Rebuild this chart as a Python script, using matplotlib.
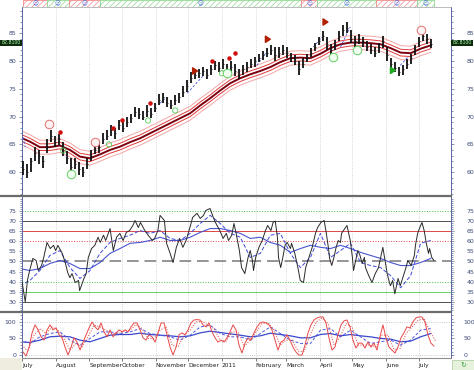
import numpy as np
import pandas as pd
import matplotlib
matplotlib.use('Agg')
import matplotlib.pyplot as plt
from matplotlib.ticker import MultipleLocator
from matplotlib.lines import Line2D
from matplotlib.patches import Rectangle

# ==========================================
# 1. Values
#    x values are days since 1 July 2010
# ==========================================
base = pd.Timestamp('2010-07-01')

# price bars (evenly spaced from first to last bar)
bar_first, bar_last = 1, 376
bar_close = [60.5, 60.0, 62.0, 63.5, 63.0, 62.0, 64.5, 66.5, 65.5, 66.0,
             64.0, 62.5, 61.0, 61.5, 60.5, 60.0, 61.5, 63.0, 64.0, 64.5,
             66.0, 66.5, 67.5, 67.0, 68.5, 68.0, 69.0, 69.8, 70.8, 70.5,
             70.0, 71.0, 70.5, 71.5, 73.0, 73.5, 72.5, 72.0, 73.0, 73.5,
             74.5, 75.5, 77.0, 77.5, 77.8, 78.2, 77.5, 78.5, 79.2, 78.8,
             79.5, 78.5, 79.0, 78.2, 77.5, 78.5, 79.0, 79.5, 80.0, 80.5,
             81.0, 81.5, 82.0, 81.0, 81.5, 82.0, 81.5, 80.5, 80.0, 78.5,
             79.5, 80.5, 81.5, 82.5, 83.5, 84.5, 83.0, 82.0, 83.0, 84.5,
             85.5, 86.0, 84.0, 83.5, 84.0, 83.5, 82.5, 82.0, 81.5, 82.5,
             83.5, 81.0, 79.5, 78.8, 78.0, 78.5, 79.5, 80.5, 82.0, 83.5,
             84.5, 84.0, 83.0]
bar_high = [62.0, 61.5, 62.5, 64.5, 64.0, 63.0, 66.0, 67.5, 66.5, 66.8,
            65.5, 63.8, 62.5, 62.5, 61.8, 61.0, 62.5, 64.0, 65.0, 65.5,
            67.0, 67.5, 68.5, 68.0, 69.3, 69.0, 70.0, 70.5, 71.8, 71.5,
            71.0, 72.0, 71.5, 72.5, 74.0, 74.3, 73.5, 73.0, 73.8, 74.2,
            75.5, 76.5, 78.0, 78.5, 78.5, 79.0, 78.5, 79.3, 80.0, 79.8,
            80.3, 79.5, 80.0, 79.5, 78.5, 79.3, 79.8, 80.3, 80.8, 81.3,
            81.8, 82.3, 82.8, 82.5, 82.5, 82.8, 82.5, 81.5, 81.0, 80.0,
            80.5, 81.3, 82.3, 83.3, 84.3, 85.3, 84.3, 83.0, 83.8, 85.3,
            86.5, 87.0, 85.5, 84.5, 84.8, 84.3, 83.5, 83.0, 82.5, 83.3,
            84.5, 82.5, 80.5, 79.8, 79.0, 79.3, 80.3, 81.3, 82.8, 84.3,
            85.3, 84.8, 84.0]
bar_low = [59.5, 59.0, 60.0, 62.0, 61.5, 60.8, 63.5, 65.5, 64.5, 64.8,
           63.0, 61.5, 60.0, 60.5, 59.5, 59.2, 60.5, 62.0, 63.2, 63.5,
           65.0, 65.8, 66.5, 66.0, 67.5, 67.2, 68.2, 68.8, 70.0, 69.5,
           69.3, 70.0, 69.8, 70.8, 72.0, 72.5, 71.8, 71.3, 72.0, 72.5,
           73.5, 74.5, 76.0, 76.8, 77.0, 77.3, 76.8, 77.5, 78.3, 78.0,
           78.5, 77.5, 78.0, 77.3, 76.8, 77.5, 78.0, 78.7, 79.0, 79.8,
           80.2, 80.8, 81.0, 80.0, 80.5, 81.0, 80.5, 79.8, 79.2, 77.5,
           78.8, 79.8, 80.8, 81.8, 82.8, 83.5, 82.0, 81.0, 82.0, 83.5,
           84.5, 85.0, 83.2, 82.5, 83.0, 82.5, 81.8, 81.2, 80.8, 81.5,
           82.3, 80.0, 78.8, 78.0, 77.3, 77.5, 78.5, 79.5, 81.0, 82.5,
           83.5, 83.0, 82.3]

# moving average at the centre of the red envelope
ma_first, ma_last = -2, 376
ma_mid = [66.3, 65.5, 64.5, 64.5, 64.8, 64.0, 62.8, 62.5, 63.2, 64.0,
          64.6, 65.4, 66.1, 67.0, 67.9, 68.8, 69.7, 70.6, 72.0, 73.3,
          74.7, 76.0, 76.9, 77.6, 78.2, 78.9, 79.8, 80.5, 80.6, 80.5,
          81.3, 82.3, 83.0, 83.3, 83.3, 83.2, 83.0, 82.3, 81.5, 81.4,
          82.2, 82.8]
band_offsets = [0.6, 1.25]

# short blue dashed trend segments: (day0, price0, day1, price1)
trend_segments = [(0, 67.0, 3, 64.5), (127, 72.4, 133, 73.5), (152, 74.2, 167, 77.4),
                  (216, 79.2, 225, 81.6), (268, 82.5, 276, 84.3), (293, 82.5, 302, 86.1),
                  (348, 79.2, 355, 80.7)]

# buy / sell zones in the top strip
signal_edges = [1, 23, 43, 72, 257, 271, 326, 363, 379]
signal_kinds = ['sell', 'buy', 'sell', 'buy', 'sell', 'buy', 'sell', 'buy']

# chart signals
sad_days, sad_price = [25, 67, 367], [68.6, 65.4, 85.5]
smile_days, smile_price = [45, 189, 286, 308], [59.6, 77.8, 80.7, 81.9]
ring_days, ring_price = [38, 80, 116, 141, 184], [63.9, 65.0, 69.3, 71.1, 77.8]
dot_days = [35, 84, 92, 118, 175, 190, 196]
dot_price = [67.2, 67.9, 69.3, 72.4, 80.0, 80.6, 81.5]
up_arrow_days, up_arrow_price = [159, 226, 279], [78.2, 83.9, 87.0]
dn_arrow_days, dn_arrow_price = [341], [78.3]
last_price = '82.8100'

# RSI
rsi_days = [0, 3, 5, 7, 10, 13, 15, 18, 20, 23,
            26, 29, 31, 33, 37, 40, 42, 44, 46, 49,
            52, 53, 57, 59, 61, 64, 67, 70, 72, 75,
            77, 81, 84, 87, 90, 93, 96, 99, 102, 104,
            107, 109, 113, 116, 120, 122, 125, 127, 131, 133,
            136, 139, 142, 145, 148, 151, 155, 157, 161, 164,
            167, 169, 173, 176, 178, 182, 185, 188, 190, 193,
            195, 197, 200, 202, 205, 208, 210, 212, 213, 215,
            218, 221, 224, 226, 229, 231, 233, 235, 236, 238,
            240, 242, 244, 247, 248, 251, 254, 256, 259, 261,
            264, 267, 270, 272, 275, 278, 280, 282, 283, 285,
            287, 289, 291, 293, 294, 297, 299, 302, 304, 305,
            307, 309, 311, 313, 315, 316, 319, 322, 325, 328,
            330, 332, 334, 336, 338, 339, 341, 343, 346, 348,
            351, 353, 355, 358, 361, 362, 364, 366, 368, 370,
            372, 374, 375, 377, 379]
rsi_vals = [40, 30, 40.6, 45.5, 51.5, 50.5, 45.5, 48, 52, 59.4,
            56.4, 58, 55.4, 58, 54, 49, 44.6, 42, 44, 39.6,
            40.6, 35.6, 41.6, 44, 52, 56.4, 58, 62, 59.4, 63,
            60.4, 66.3, 55.4, 62, 63.9, 60.4, 64.4, 65.3, 67.8, 70.3,
            66.8, 69.3, 65.3, 63, 60.4, 61.4, 65.3, 72.8, 70.3, 59,
            54.5, 49.5, 57, 61.4, 57, 60.4, 67.8, 71.8, 73.8, 71.3,
            72.8, 75.2, 76.2, 71.8, 69.3, 65.3, 61.4, 63.9, 60.4, 63,
            68.8, 63.9, 55.4, 47, 44, 52, 55.4, 50.5, 45.5, 52,
            57, 60.4, 65.3, 67.8, 65.3, 69.3, 70, 62, 52, 47,
            52, 58, 59.4, 56.4, 59, 54, 46.5, 40.6, 39.6, 47,
            52, 57, 63.9, 66.8, 69.3, 70.3, 63.9, 56.4, 51.5, 48,
            52, 57, 60.4, 59.4, 63.9, 66.3, 67.8, 60.4, 52, 45.5,
            50.5, 55.4, 53, 49, 52, 47, 43, 39.6, 44, 47,
            52, 57, 50.5, 44, 39.6, 38, 40.6, 34, 41.6, 38,
            43, 46.5, 50.5, 48, 53, 58, 63.9, 66.8, 69.3, 65.3,
            59, 54, 56.4, 52, 50.5]
rsi_avg_first, rsi_avg_last = -2, 376
rsi_fast_avg = [38, 40.6, 45.5, 53, 55.4, 47, 41.6, 45.5, 54, 59.4,
                61.4, 63, 65.3, 63.9, 65.3, 61.4, 60.4, 63.9, 68.8, 72.8,
                68.8, 63.9, 62, 52, 54, 63, 63.9, 54, 47, 52,
                63.9, 52, 55.4, 59, 49.5, 48, 47, 43, 37, 43,
                59, 60.4]
rsi_slow_avg = [46.5, 45.5, 46.5, 49, 50.5, 49, 46.5, 46.5, 49.5, 54,
                56.4, 59, 59.4, 60.4, 62, 60.4, 60.4, 62, 64.4, 66.3,
                66.3, 65.3, 63.9, 61.4, 62, 59.4, 58, 54.5, 56.4, 58,
                57, 56.4, 58, 56.4, 54.5, 53, 51.5, 49.5, 48, 48,
                49.5, 51.5]
rsi_levels = [75, 70, 65, 60, 50, 40, 35, 30]

# stochastic
stoch_k_first, stoch_k_last = 1, 379
stoch_k = [9, -3, 24, 67, 91, 76, 55, 45, 76, 91,
           76, 82, 61, 52, 24, 0, 24, 52, 39, 15,
           39, 61, 82, 100, 85, 76, 97, 70, 55, 76,
           55, 67, 76, 70, 76, 70, 85, 97, 97, 76,
           52, 45, 61, 55, 39, 67, 97, 97, 61, 24,
           0, 24, 61, 67, 61, 76, 97, 106, 107, 106,
           91, 85, 97, 70, 52, 39, 45, 39, 52, 70,
           91, 76, 30, 6, 36, 52, 45, 67, 85, 97,
           100, 97, 91, 76, 45, 15, 39, 45, 61, 45,
           24, 9, 0, 0, 30, 67, 91, 106, 112, 115,
           115, 97, 52, 15, 24, 61, 91, 103, 106, 85,
           45, 21, 36, 36, 21, 39, 24, 36, 15, 55,
           91, 52, 24, 15, 6, 24, 52, 67, 85, 82,
           100, 112, 115, 115, 100, 61, 36, 27]
stoch_d_first, stoch_d_last = 0, 381
stoch_d = [30, 10, 60, 80, 65, 85, 75, 50, 15, 35,
           25, 55, 90, 85, 75, 65, 65, 72, 75, 92,
           80, 50, 50, 75, 85, 30, 25, 60, 75, 100,
           102, 90, 80, 45, 42, 70, 70, 25, 45, 70,
           95, 98, 75, 30, 45, 45, 12, 10, 60, 100,
           112, 95, 30, 55, 95, 85, 30, 30, 30, 25,
           60, 60, 15, 20, 65, 85, 105, 110, 70, 40]
stoch_avg_first, stoch_avg_last = -2, 376
stoch_fast_avg = [45, 35, 55, 65, 70, 45, 30, 50, 70, 70,
                  65, 70, 80, 65, 60, 55, 45, 60, 85, 90,
                  65, 55, 55, 45, 65, 85, 65, 45, 35, 35,
                  75, 80, 55, 75, 55, 35, 40, 45, 30, 45,
                  75, 80]
stoch_slow_avg = [40, 38, 45, 55, 57, 55, 45, 40, 50, 60,
                  62, 62, 66, 62, 60, 58, 55, 58, 67, 72,
                  68, 64, 60, 55, 58, 66, 62, 58, 52, 52,
                  62, 65, 58, 62, 58, 55, 50, 48, 40, 42,
                  55, 65]

month_starts = pd.date_range('2010-07-01', '2011-07-01', freq='MS')
month_days = [(d - base).days for d in month_starts]
month_labels = [str(d.year) if d.month == 1 else d.strftime('%B') for d in month_starts]

# ==========================================
# 2. Layout
# ==========================================
plt.rcParams.update({'font.family': 'DejaVu Sans', 'hatch.linewidth': 0.5})
fig = plt.figure(figsize=(4.74, 3.70), dpi=100)
fig.patch.set_facecolor('white')

L, W = 22 / 474, 429 / 474
def fy(px):
    return 1 - px / 370

ax_sig = fig.add_axes([L, fy(7), W, 7 / 370])
ax_p = fig.add_axes([L, fy(195), W, 188 / 370])
ax_r = fig.add_axes([L, fy(311), W, 114 / 370])
ax_s = fig.add_axes([L, fy(358), W, 45 / 370])

x_max = 394.7
axis_col = '#5a68a0'
label_col = '#3c4a78'

for ax in (ax_p, ax_r, ax_s):
    ax.set_xlim(0, x_max)
    for d in month_days:
        ax.axvline(d, color='#c8c8c8', ls=':', lw=0.6, zorder=0)
    for side in ('top', 'bottom'):
        ax.spines[side].set_visible(False)
    for side in ('left', 'right'):
        ax.spines[side].set_color(axis_col)
        ax.spines[side].set_linewidth(0.7)
    ax.tick_params(axis='y', which='both', left=True, right=True, labelleft=True,
                   labelright=True, direction='out', colors=axis_col,
                   labelcolor=label_col, labelsize=4.5, width=0.5)
    ax.tick_params(axis='y', which='major', length=2.5, pad=1.5)
    ax.tick_params(axis='y', which='minor', length=1.2)
    ax.tick_params(axis='x', bottom=False, labelbottom=False)

# ---- top strip: buy/sell zones ----
ax_sig.set_xlim(0, x_max)
ax_sig.set_ylim(0, 1)
ax_sig.axis('off')
for i, kind in enumerate(signal_kinds):
    x0, x1 = signal_edges[i], signal_edges[i + 1]
    col = '#f08c8c' if kind == 'sell' else '#8fd88f'
    ax_sig.add_patch(Rectangle((x0, 0), x1 - x0, 1, facecolor='white',
                               edgecolor=col, hatch='//////', lw=0.6))
    ax_sig.text((x0 + x1) / 2, 0.45, '\u263a', color='#3a5ee0', fontsize=4,
                ha='center', va='center')

# ---- price panel ----
bar_days = np.linspace(bar_first, bar_last, len(bar_close))
ma_days = np.linspace(ma_first, ma_last, len(ma_mid))
ma = np.array(ma_mid)

ax_p.set_ylim(55.9, 89.7)
ax_p.set_yticks([60, 65, 70, 75, 80, 85])
ax_p.yaxis.set_minor_locator(MultipleLocator(1))

for off, col in zip(band_offsets[::-1], ['#f4a6a6', '#e03a3a']):
    ax_p.plot(ma_days, ma + off, color=col, lw=0.7, zorder=2)
    ax_p.plot(ma_days, ma - off, color=col, lw=0.7, zorder=2)
ax_p.plot(ma_days, ma, color='#7a0010', lw=1.4, zorder=2)

for d0, p0, d1, p1 in trend_segments:
    ax_p.plot([d0, d1], [p0, p1], color='#4a5ae0', lw=0.6, ls=(0, (3, 2)), zorder=2)

ax_p.vlines(bar_days, bar_low, bar_high, color='#111111', lw=1.3, zorder=3)
ax_p.hlines(bar_close, bar_days, bar_days + 1.2, color='#111111', lw=0.6, zorder=3)

ax_p.scatter(ring_days, ring_price, s=14, facecolor='none', edgecolor='#55cc55',
             lw=0.6, zorder=4)
ax_p.scatter(smile_days, smile_price, s=38, facecolor='#f0fff0', edgecolor='#66d066',
             lw=0.7, zorder=4)
ax_p.scatter(sad_days, sad_price, s=38, facecolor='#fff2f2', edgecolor='#e07070',
             lw=0.7, zorder=4)
ax_p.scatter(dot_days, dot_price, s=5, color='#d01010', zorder=4)
arrow_style = 'simple,head_width=0.9,head_length=0.7,tail_width=0.35'
for d, p in zip(up_arrow_days, up_arrow_price):
    ax_p.annotate('', xy=(d + 5, p), xytext=(d - 4, p),
                  arrowprops=dict(arrowstyle=arrow_style, color='#b02000',
                                  mutation_scale=5), zorder=5)
for d, p in zip(dn_arrow_days, dn_arrow_price):
    ax_p.annotate('', xy=(d + 5, p), xytext=(d - 4, p),
                  arrowprops=dict(arrowstyle=arrow_style, color='#22aa22',
                                  mutation_scale=5), zorder=5)

# ---- RSI panel ----
ax_r.set_ylim(25.5, 81.9)
ax_r.set_yticks([30, 35, 40, 45, 50, 55, 60, 65, 70, 75])
ax_r.yaxis.set_minor_locator(MultipleLocator(1))
level_style = {75: ('#44c044', ':', 0.7), 70: ('#505050', '-', 0.7),
               65: ('#e04848', '-', 0.7), 60: ('#e04848', ':', 0.7),
               50: ('#959595', (0, (6, 3)), 1.4), 40: ('#44c044', ':', 0.7),
               35: ('#66d066', '-', 0.7), 30: ('#505050', '-', 0.7)}
for lv in rsi_levels:
    c, ls, lw = level_style[lv]
    ax_r.axhline(lv, color=c, ls=ls, lw=lw, zorder=1)
rsi_avg_days = np.linspace(rsi_avg_first, rsi_avg_last, len(rsi_slow_avg))
ax_r.plot(rsi_avg_days, rsi_slow_avg, color='#4a55d0', lw=0.8, zorder=2)
ax_r.plot(rsi_avg_days, rsi_fast_avg, color='#3f4ad8', lw=0.7, ls=(0, (4, 2)), zorder=2)
ax_r.plot(rsi_days, rsi_vals, color='#2a2a2a', lw=0.7, zorder=3)

# ---- stochastic panel ----
ax_s.set_ylim(-9, 127)
ax_s.set_yticks([0, 50, 100])
ax_s.yaxis.set_minor_locator(MultipleLocator(10))
for lv in (0, 100):
    ax_s.axhline(lv, color='#b8b8b8', ls=':', lw=0.6, zorder=1)
k_days = np.linspace(stoch_k_first, stoch_k_last, len(stoch_k))
d_days = np.linspace(stoch_d_first, stoch_d_last, len(stoch_d))
avg_days = np.linspace(stoch_avg_first, stoch_avg_last, len(stoch_slow_avg))
ax_s.plot(avg_days, stoch_slow_avg, color='#3a48cc', lw=0.9, zorder=2)
ax_s.plot(avg_days, stoch_fast_avg, color='#4a58e0', lw=0.7, ls=(0, (3, 2)), zorder=2)
ax_s.plot(d_days, stoch_d, color='#e04040', lw=0.7, ls=':', zorder=3)
ax_s.plot(k_days, stoch_k, color='#e84848', lw=0.7, zorder=3)

ax_s.set_xticks(month_days)
ax_s.set_xticklabels(month_labels)
ax_s.tick_params(axis='x', bottom=True, labelbottom=True, labelsize=4.2, length=2.5,
                 width=0.5, colors='#404040', labelcolor='#202020', pad=1)
for lbl in ax_s.get_xticklabels():
    lbl.set_ha('left')
ax_s.spines['bottom'].set_visible(True)
ax_s.spines['bottom'].set_color('#909090')

# right-hand labels sit a little further out than the ticks
for ax in (ax_p, ax_r, ax_s):
    ax.tick_params(axis='y', which='major', labelright=True)
    for lbl in ax.get_yticklabels():
        pass
    ax.yaxis.set_tick_params(which='major', pad=1.5)
for ax in (ax_p, ax_r):
    for t in ax.yaxis.get_major_ticks():
        t.label2.set_x(1.024)
for t in ax_s.yaxis.get_major_ticks():
    t.label2.set_x(1.016)

# ---- separators and side boxes ----
for px in (196, 312):
    fig.add_artist(Line2D([0, 451 / 474], [fy(px), fy(px)], color='#6c6c6c', lw=1.6))
fig.add_artist(Line2D([L, L + W], [fy(7), fy(7)], color='#a0a0a0', lw=0.5))

for xc in (11 / 474, 462 / 474):
    fig.text(xc, fy(43), last_price, ha='center', va='center', fontsize=3.3,
             color='#b8ffb8', bbox=dict(boxstyle='square,pad=0.2', fc='#0c2c0c', ec='none'))

fig.add_artist(Rectangle((0, 0), 22 / 474, 12 / 370, transform=fig.transFigure,
                         facecolor='#efece0', edgecolor='none'))
fig.add_artist(Rectangle((452 / 474, 0), 22 / 474, 10 / 370, transform=fig.transFigure,
                         facecolor='#e6f2dc', edgecolor='#a8c898', lw=0.5))
fig.text(463 / 474, 5 / 370, '\u21bb', color='#3aa03a', fontsize=5, ha='center', va='center')

fig.savefig('out.png', dpi=100)
